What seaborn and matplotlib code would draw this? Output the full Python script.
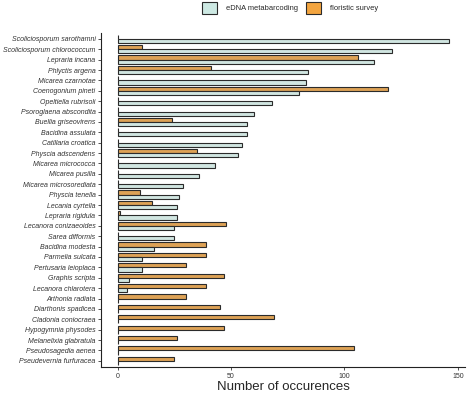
import numpy as np
import pandas as pd
import matplotlib
matplotlib.use("Agg")
import matplotlib.pyplot as plt
import matplotlib.patches as mpatches
import seaborn as sns

# Species (top to bottom)
species = ["Scoliciosporum sarothamni", "Scoliciosporum chlorococcum", "Lepraria incana",
           "Phlyctis argena", "Micarea czarnotae", "Coenogonium pineti", "Opeltiella rubrisoli",
           "Psoroglaena abscondita", "Buellia griseovirens", "Bacidina assulata",
           "Catillaria croatica", "Physcia adscendens", "Micarea micrococca", "Micarea pusilla",
           "Micarea microsorediata", "Physcia tenella", "Lecania cyrtella", "Lepraria rigidula",
           "Lecanora conizaeoides", "Sarea difformis", "Bacidina modesta", "Parmelia sulcata",
           "Pertusaria leioplaca", "Graphis scripta", "Lecanora chlarotera", "Arthonia radiata",
           "Diarthonis spadicea", "Cladonia coniocraea", "Hypogymnia physodes",
           "Melanelixia glabratula", "Pseudosagedia aenea", "Pseudevernia furfuracea"]

# Number of occurences
edna = [146, 121, 113, 84, 83, 80, 68, 60, 57, 57, 55, 53, 43, 36, 29, 27,
        26, 26, 25, 25, 16, 11, 11, 5, 4, 0, 0, 0, 0, 0, 0, 0]
survey = [0, 11, 106, 41, 0, 119, 0, 0, 24, 0, 0, 35, 0, 0, 0, 10,
          15, 1, 48, 0, 39, 39, 30, 47, 39, 30, 45, 69, 47, 26, 104, 25]

methods = ["eDNA metabarcoding", "floristic survey"]
colors = {"eDNA metabarcoding": "#cde9e3", "floristic survey": "#f3a540"}

df = pd.DataFrame({"Species": species * 2,
                   "Method": [methods[0]] * len(species) + [methods[1]] * len(species),
                   "Count": edna + survey})

sns.set_style("ticks")
plt.rcParams["font.family"] = ["Liberation Sans", "DejaVu Sans"]

fig, ax = plt.subplots(figsize=(4.74, 3.93), dpi=100)
fig.subplots_adjust(left=0.213, right=0.982, top=0.917, bottom=0.066)

# floristic survey drawn above eDNA within each row
sns.barplot(data=df, y="Species", x="Count", hue="Method", order=species,
            hue_order=["floristic survey", "eDNA metabarcoding"], palette=colors,
            width=0.8, edgecolor="#2b2b2b", linewidth=0.8, orient="h", ax=ax)

ax.set_xlim(-7.3, 153.3)
ax.set_ylim(len(species) - 0.4, -0.6)
ax.set_xticks([0, 50, 100, 150])
ax.tick_params(axis="x", labelsize=5, colors="#333333", length=2.5, width=0.6, pad=2)
ax.tick_params(axis="y", labelsize=5.0, colors="#333333", length=2.5, width=0.6, pad=1.5)
for lab in ax.get_yticklabels():
    lab.set_fontstyle("italic")
ax.set_ylabel("")
ax.set_xlabel("Number of occurences", fontsize=9.5, labelpad=0.5)
for s in ["top", "right"]:
    ax.spines[s].set_visible(False)
for s in ["left", "bottom"]:
    ax.spines[s].set_linewidth(0.8)
    ax.spines[s].set_color("#222222")

ax.get_legend().remove()
handles = [mpatches.Patch(facecolor=colors[m], edgecolor="#2b2b2b", linewidth=0.8, label=m)
           for m in methods]
fig.legend(handles=handles, loc="upper center", bbox_to_anchor=(0.612, 1.012), ncol=2,
           frameon=False, fontsize=5.4, handlelength=2.0, handleheight=2.1,
           columnspacing=1.0, handletextpad=1.2)

fig.savefig("out.png", dpi=100)
